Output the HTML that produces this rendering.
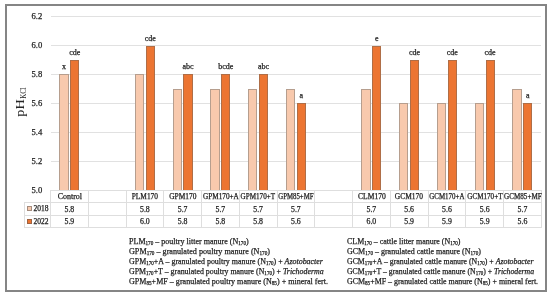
<!DOCTYPE html>
<html><head><meta charset="utf-8"><style>
*{margin:0;padding:0;box-sizing:border-box}
html,body{width:550px;height:298px;background:#fff;overflow:hidden}
body{position:relative;font-family:"Liberation Serif", serif;color:#222;-webkit-text-stroke:0.25px #222}
.frame{position:absolute;left:5px;top:4px;width:542px;height:288px;border:2px solid #858585}
.g{position:absolute;left:50.5px;width:490.80px;height:1px;background:#e1e1e1}
.tk{position:absolute;left:20px;width:22.3px;text-align:right;font-size:8.6px;line-height:10px;height:10px}
.b{position:absolute;width:9.1px;border:0.8px solid rgba(90,100,100,.42);border-bottom:none}
.b.l,.key.l{background:#f8c9ad}
.b.o,.key.o{background:#ec7532}
.bl{position:absolute;width:30px;text-align:center;font-size:8px;line-height:10px}
.h{position:absolute;height:1px;background:#dedede}
.v{position:absolute;width:1px;background:#dedede}
.c{position:absolute;text-align:center;font-size:7.5px;white-space:nowrap}
.c.n{font-size:7.8px}
.key{position:absolute;width:4.8px;height:4.8px;border:0.6px solid rgba(80,80,80,.5)}
.lg{position:absolute;font-size:7.5px}
.yt{-webkit-text-stroke:0;color:#262626;position:absolute;line-height:1;white-space:nowrap}
.yt sub{font-size:6.3px;vertical-align:-2.2px}
.fn{position:absolute;font-size:8.6px;line-height:10px;height:10px;white-space:nowrap;transform-origin:0 0}
.fn sub{font-size:0.64em;vertical-align:-1px;line-height:0}
</style></head><body>
<div class="frame"></div>
<div class="yt" style="left:20.6px;top:107.8px;font-size:11.5px;transform:translate(-50%,-50%) rotate(-90deg) scaleX(1.24)">pH</div><div class="yt" style="left:24.6px;top:93.2px;font-size:7.2px;transform:translate(-50%,-50%) rotate(-90deg) scaleX(0.97)">KCl</div>
<div class="g" style="top:160.92px"></div>
<div class="g" style="top:131.94px"></div>
<div class="g" style="top:102.96px"></div>
<div class="g" style="top:73.98px"></div>
<div class="g" style="top:45.00px"></div>
<div class="g" style="top:16.02px"></div>
<div class="tk" style="top:185.30px">5.0</div>
<div class="tk" style="top:156.32px">5.2</div>
<div class="tk" style="top:127.34px">5.4</div>
<div class="tk" style="top:98.36px">5.6</div>
<div class="tk" style="top:69.38px">5.8</div>
<div class="tk" style="top:40.40px">6.0</div>
<div class="tk" style="top:11.42px">6.2</div>
<div class="b l" style="left:59.43px;top:74.48px;height:115.92px"></div>
<div class="bl" style="left:48.98px;top:62.48px">x</div>
<div class="b o" style="left:70.23px;top:59.99px;height:130.41px"></div>
<div class="bl" style="left:59.78px;top:47.99px">cde</div>
<div class="b l" style="left:134.93px;top:74.48px;height:115.92px"></div>
<div class="b o" style="left:145.73px;top:45.50px;height:144.90px"></div>
<div class="bl" style="left:135.28px;top:33.50px">cde</div>
<div class="b l" style="left:172.69px;top:88.97px;height:101.43px"></div>
<div class="b o" style="left:183.49px;top:74.48px;height:115.92px"></div>
<div class="bl" style="left:173.04px;top:62.48px">abc</div>
<div class="b l" style="left:210.44px;top:88.97px;height:101.43px"></div>
<div class="b o" style="left:221.24px;top:74.48px;height:115.92px"></div>
<div class="bl" style="left:210.79px;top:62.48px">bcde</div>
<div class="b l" style="left:248.20px;top:88.97px;height:101.43px"></div>
<div class="b o" style="left:259.00px;top:74.48px;height:115.92px"></div>
<div class="bl" style="left:248.55px;top:62.48px">abc</div>
<div class="b l" style="left:285.95px;top:88.97px;height:101.43px"></div>
<div class="b o" style="left:296.75px;top:103.46px;height:86.94px"></div>
<div class="bl" style="left:286.30px;top:91.46px">a</div>
<div class="b l" style="left:361.46px;top:88.97px;height:101.43px"></div>
<div class="b o" style="left:372.26px;top:45.50px;height:144.90px"></div>
<div class="bl" style="left:361.81px;top:33.50px">e</div>
<div class="b l" style="left:399.21px;top:103.46px;height:86.94px"></div>
<div class="b o" style="left:410.01px;top:59.99px;height:130.41px"></div>
<div class="bl" style="left:399.56px;top:47.99px">cde</div>
<div class="b l" style="left:436.97px;top:103.46px;height:86.94px"></div>
<div class="b o" style="left:447.77px;top:59.99px;height:130.41px"></div>
<div class="bl" style="left:437.32px;top:47.99px">cde</div>
<div class="b l" style="left:474.72px;top:103.46px;height:86.94px"></div>
<div class="b o" style="left:485.52px;top:59.99px;height:130.41px"></div>
<div class="bl" style="left:475.07px;top:47.99px">cde</div>
<div class="b l" style="left:512.47px;top:88.97px;height:101.43px"></div>
<div class="b o" style="left:523.27px;top:103.46px;height:86.94px"></div>
<div class="bl" style="left:512.82px;top:91.46px">a</div>
<div class="h" style="left:50.50px;width:490.80px;top:189.90px"></div>
<div class="h" style="left:24.80px;width:516.50px;top:201.80px"></div>
<div class="h" style="left:24.80px;width:516.50px;top:214.70px"></div>
<div class="h" style="left:24.80px;width:516.50px;top:227.30px"></div>
<div class="v" style="left:50.00px;top:190.40px;height:37.40px"></div>
<div class="v" style="left:87.75px;top:190.40px;height:37.40px"></div>
<div class="v" style="left:125.51px;top:190.40px;height:37.40px"></div>
<div class="v" style="left:163.26px;top:190.40px;height:37.40px"></div>
<div class="v" style="left:201.02px;top:190.40px;height:37.40px"></div>
<div class="v" style="left:238.77px;top:190.40px;height:37.40px"></div>
<div class="v" style="left:276.52px;top:190.40px;height:37.40px"></div>
<div class="v" style="left:314.28px;top:190.40px;height:37.40px"></div>
<div class="v" style="left:352.03px;top:190.40px;height:37.40px"></div>
<div class="v" style="left:389.78px;top:190.40px;height:37.40px"></div>
<div class="v" style="left:427.54px;top:190.40px;height:37.40px"></div>
<div class="v" style="left:465.29px;top:190.40px;height:37.40px"></div>
<div class="v" style="left:503.05px;top:190.40px;height:37.40px"></div>
<div class="v" style="left:540.80px;top:190.40px;height:37.40px"></div>
<div class="v" style="left:24.30px;top:202.30px;height:25.50px"></div>
<div class="c hd" style="left:30.50px;width:77.75px;top:191.40px;height:11.90px;line-height:11.90px;transform:scaleX(1.0656)"><span>Control</span></div>
<div class="c n" style="left:50.50px;width:37.75px;top:203.50px;height:12.90px;line-height:12.90px">5.8</div>
<div class="c n" style="left:50.50px;width:37.75px;top:216.20px;height:12.60px;line-height:12.60px">5.9</div>
<div class="c hd" style="left:106.01px;width:77.75px;top:191.40px;height:11.90px;line-height:11.90px;transform:scaleX(0.9820)"><span>PLM170</span></div>
<div class="c n" style="left:126.01px;width:37.75px;top:203.50px;height:12.90px;line-height:12.90px">5.8</div>
<div class="c n" style="left:126.01px;width:37.75px;top:216.20px;height:12.60px;line-height:12.60px">6.0</div>
<div class="c hd" style="left:143.76px;width:77.75px;top:191.40px;height:11.90px;line-height:11.90px;transform:scaleX(0.9920)"><span>GPM170</span></div>
<div class="c n" style="left:163.76px;width:37.75px;top:203.50px;height:12.90px;line-height:12.90px">5.7</div>
<div class="c n" style="left:163.76px;width:37.75px;top:216.20px;height:12.60px;line-height:12.60px">5.8</div>
<div class="c hd" style="left:181.52px;width:77.75px;top:191.40px;height:11.90px;line-height:11.90px;transform:scaleX(0.9658)"><span>GPM170+A</span></div>
<div class="c n" style="left:201.52px;width:37.75px;top:203.50px;height:12.90px;line-height:12.90px">5.7</div>
<div class="c n" style="left:201.52px;width:37.75px;top:216.20px;height:12.60px;line-height:12.60px">5.8</div>
<div class="c hd" style="left:219.27px;width:77.75px;top:191.40px;height:11.90px;line-height:11.90px;transform:scaleX(0.9519)"><span>GPM170+T</span></div>
<div class="c n" style="left:239.27px;width:37.75px;top:203.50px;height:12.90px;line-height:12.90px">5.7</div>
<div class="c n" style="left:239.27px;width:37.75px;top:216.20px;height:12.60px;line-height:12.60px">5.8</div>
<div class="c hd" style="left:257.02px;width:77.75px;top:191.40px;height:11.90px;line-height:11.90px;transform:scaleX(0.9082)"><span>GPM85+MF</span></div>
<div class="c n" style="left:277.02px;width:37.75px;top:203.50px;height:12.90px;line-height:12.90px">5.7</div>
<div class="c n" style="left:277.02px;width:37.75px;top:216.20px;height:12.60px;line-height:12.60px">5.6</div>
<div class="c hd" style="left:332.53px;width:77.75px;top:191.40px;height:11.90px;line-height:11.90px;transform:scaleX(1.0105)"><span>CLM170</span></div>
<div class="c n" style="left:352.53px;width:37.75px;top:203.50px;height:12.90px;line-height:12.90px">5.7</div>
<div class="c n" style="left:352.53px;width:37.75px;top:216.20px;height:12.60px;line-height:12.60px">6.0</div>
<div class="c hd" style="left:370.28px;width:77.75px;top:191.40px;height:11.90px;line-height:11.90px;transform:scaleX(0.9913)"><span>GCM170</span></div>
<div class="c n" style="left:390.28px;width:37.75px;top:203.50px;height:12.90px;line-height:12.90px">5.6</div>
<div class="c n" style="left:390.28px;width:37.75px;top:216.20px;height:12.60px;line-height:12.60px">5.9</div>
<div class="c hd" style="left:408.04px;width:77.75px;top:191.40px;height:11.90px;line-height:11.90px;transform:scaleX(0.9286)"><span>GCM170+A</span></div>
<div class="c n" style="left:428.04px;width:37.75px;top:203.50px;height:12.90px;line-height:12.90px">5.6</div>
<div class="c n" style="left:428.04px;width:37.75px;top:216.20px;height:12.60px;line-height:12.60px">5.9</div>
<div class="c hd" style="left:445.79px;width:77.75px;top:191.40px;height:11.90px;line-height:11.90px;transform:scaleX(0.9495)"><span>GCM170+T</span></div>
<div class="c n" style="left:465.79px;width:37.75px;top:203.50px;height:12.90px;line-height:12.90px">5.6</div>
<div class="c n" style="left:465.79px;width:37.75px;top:216.20px;height:12.60px;line-height:12.60px">5.9</div>
<div class="c hd" style="left:483.55px;width:77.75px;top:191.40px;height:11.90px;line-height:11.90px;transform:scaleX(0.9498)"><span>GCM85+MF</span></div>
<div class="c n" style="left:503.55px;width:37.75px;top:203.50px;height:12.90px;line-height:12.90px">5.7</div>
<div class="c n" style="left:503.55px;width:37.75px;top:216.20px;height:12.60px;line-height:12.60px">5.6</div>
<div class="key l" style="left:27.3px;top:206.15px"></div>
<div class="lg" style="left:33.6px;top:203.10px;height:12.90px;line-height:12.90px">2018</div>
<div class="key o" style="left:27.3px;top:219.10px"></div>
<div class="lg" style="left:33.6px;top:215.70px;height:12.60px;line-height:12.60px">2022</div>
<div class="fn fl" style="left:129px;top:236.10px;transform:scaleX(0.9353)">PLM<sub>170</sub> – poultry litter manure (N<sub>170</sub>)</div>
<div class="fn fr" style="left:346.5px;top:236.10px;transform:scaleX(0.9249)">CLM<sub>170</sub> – cattle litter manure (N<sub>170</sub>)</div>
<div class="fn fl" style="left:129px;top:246.15px;transform:scaleX(0.9464)">GPM<sub>170</sub> – granulated poultry manure (N<sub>170</sub>)</div>
<div class="fn fr" style="left:346.5px;top:246.15px;transform:scaleX(0.9317)">GCM<sub>170</sub> – granulated cattle manure (N<sub>170</sub>)</div>
<div class="fn fl" style="left:129px;top:256.20px;transform:scaleX(0.9223)">GPM<sub>170</sub>+A – granulated poultry manure (N<sub>170</sub>) + <i>Azotobacter</i></div>
<div class="fn fr" style="left:346.5px;top:256.20px;transform:scaleX(0.9099)">GCM<sub>170</sub>+A – granulated cattle manure (N<sub>170</sub>) + <i>Azotobacter</i></div>
<div class="fn fl" style="left:129px;top:266.25px;transform:scaleX(0.9158)">GPM<sub>170</sub>+T – granulated poultry manure (N<sub>170</sub>) + <i>Trichoderma</i></div>
<div class="fn fr" style="left:346.5px;top:266.25px;transform:scaleX(0.9029)">GCM<sub>170</sub>+T – granulated cattle manure (N<sub>170</sub>) + <i>Trichoderma</i></div>
<div class="fn fl" style="left:129px;top:276.30px;transform:scaleX(0.9370)">GPM<sub>85</sub>+MF – granulated poultry manure (N<sub>85</sub>) + mineral fert.</div>
<div class="fn fr" style="left:346.5px;top:276.30px;transform:scaleX(0.9227)">GCM<sub>85</sub>+MF – granulated cattle manure (N<sub>85</sub>) + mineral fert.</div>
</body></html>
